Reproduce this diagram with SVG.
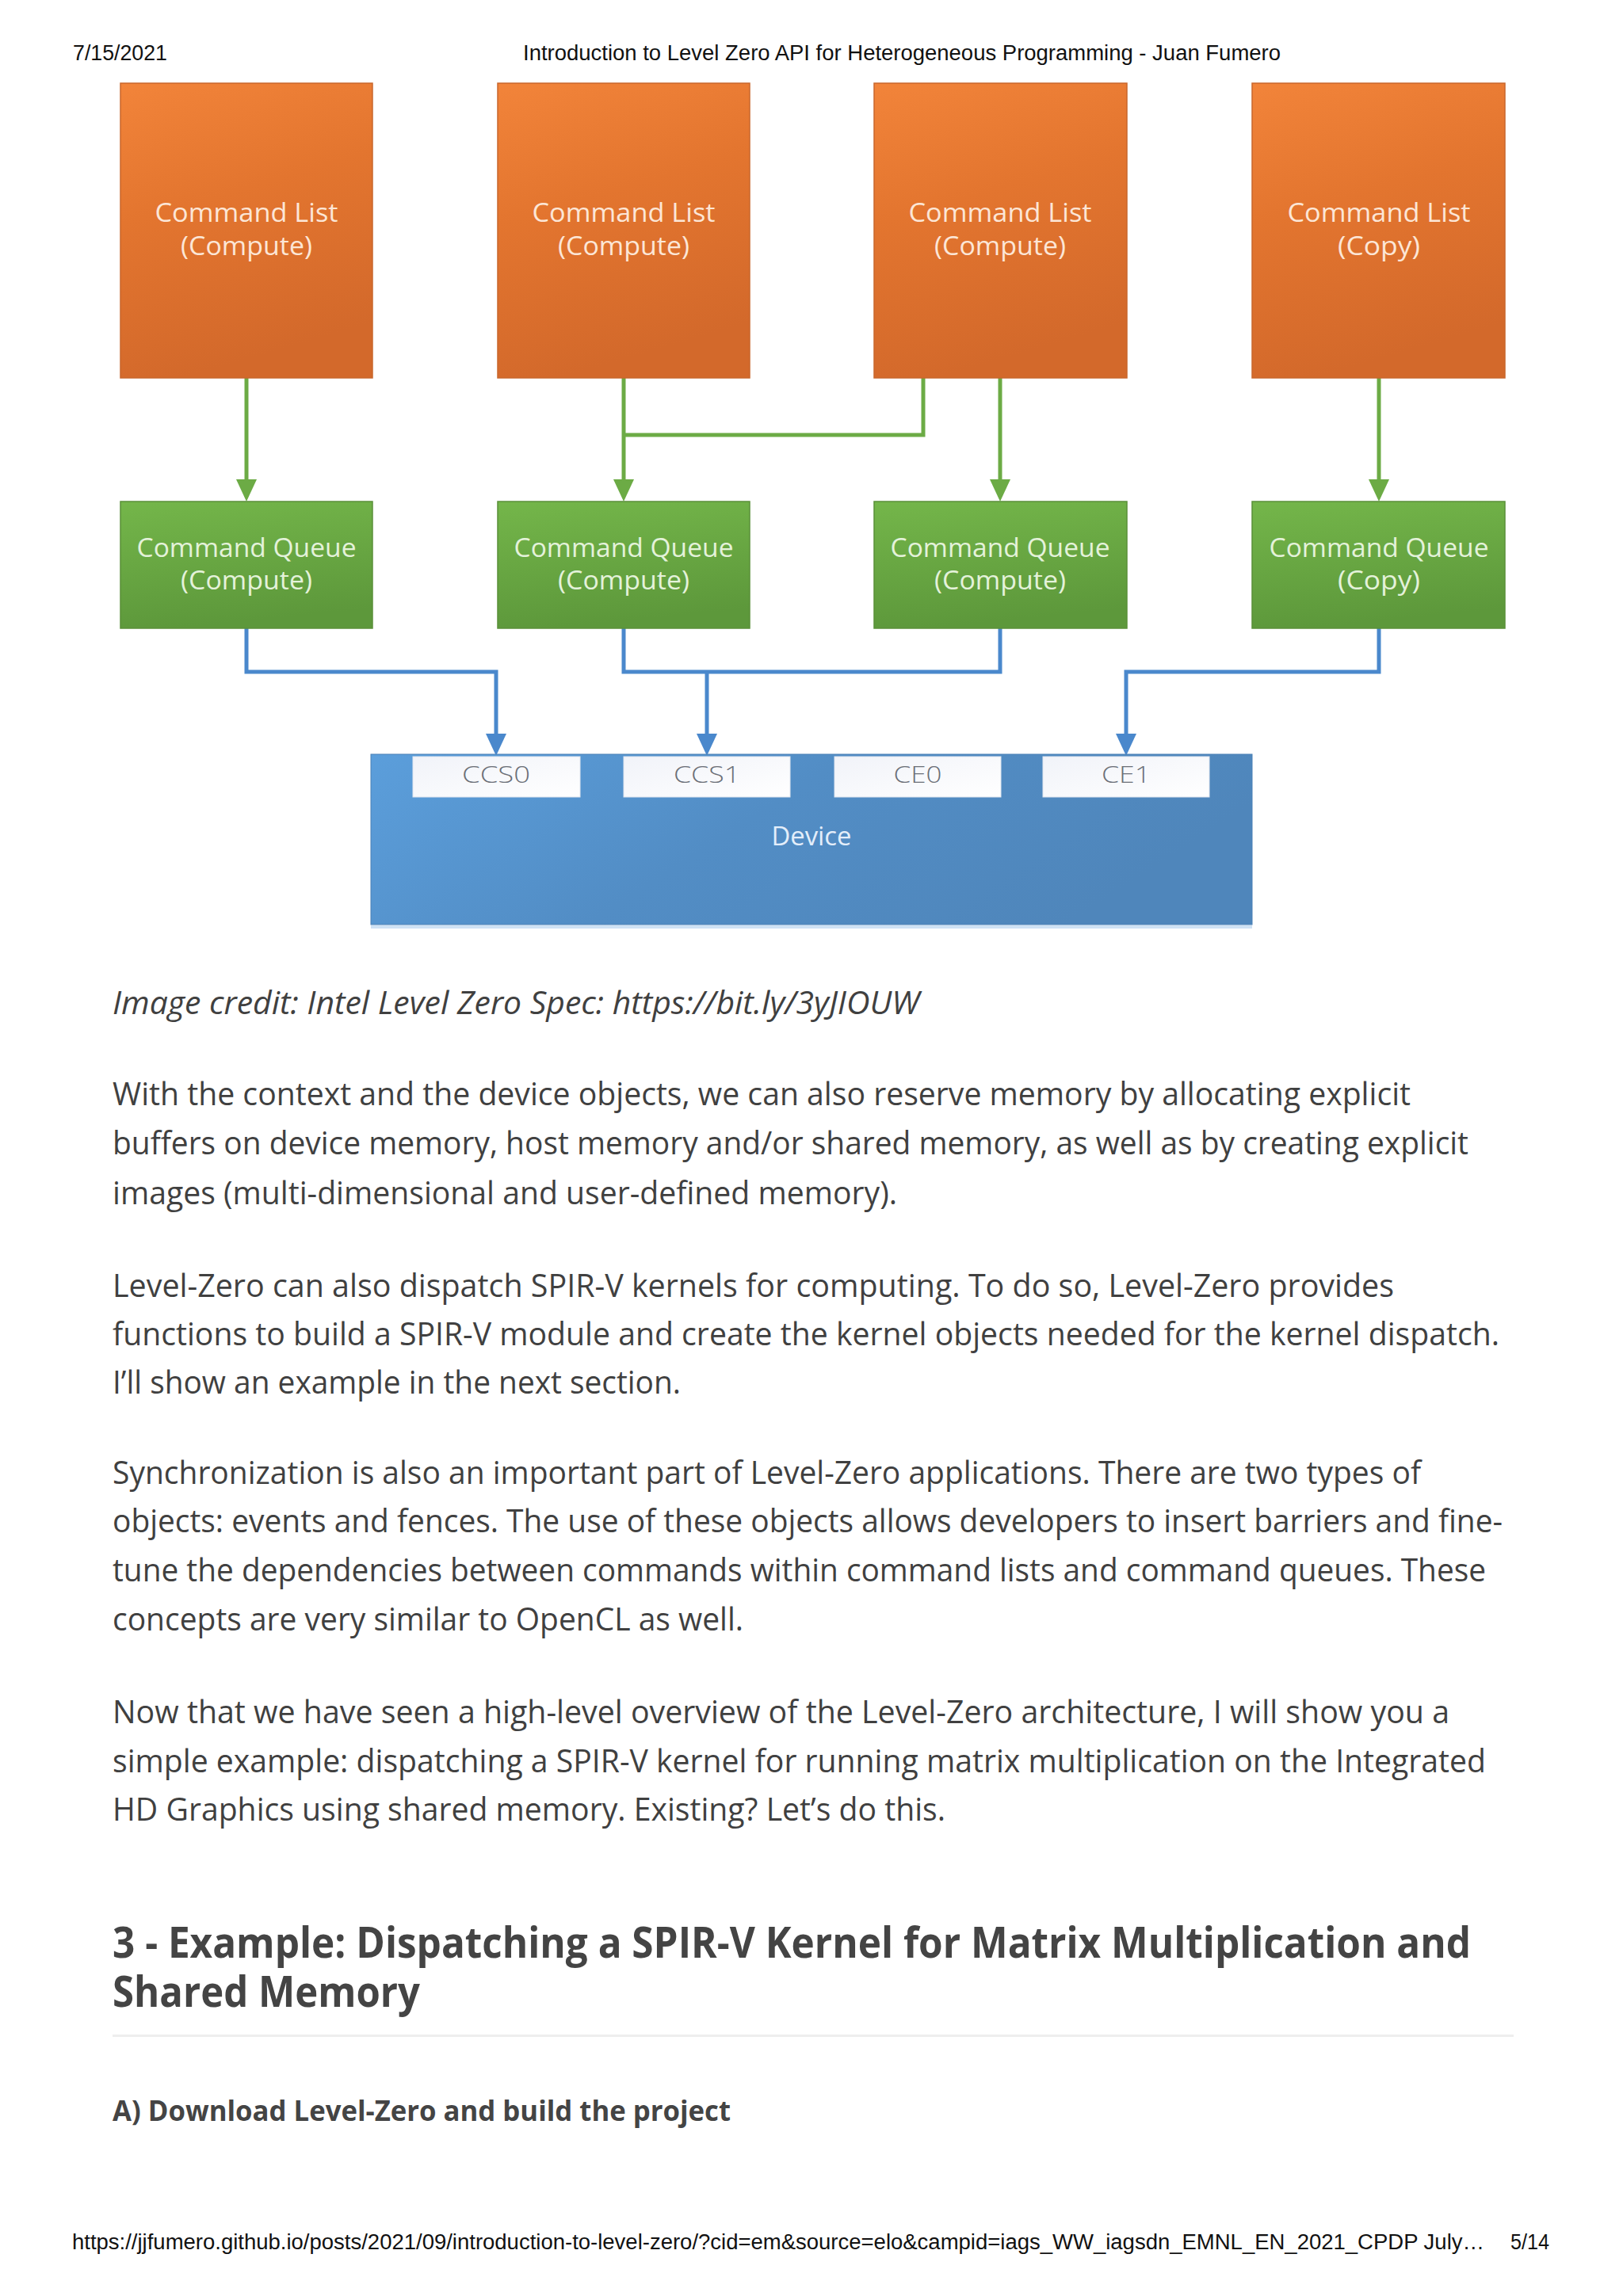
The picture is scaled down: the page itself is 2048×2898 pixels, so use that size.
<svg xmlns="http://www.w3.org/2000/svg" width="2048" height="2898" viewBox="0 0 2048 2898">
<defs>
<linearGradient id="gOrange" x1="0" y1="0" x2="0.25" y2="1">
<stop offset="0" stop-color="#f2843a"/>
<stop offset="0.45" stop-color="#e3752f"/>
<stop offset="1" stop-color="#d3692b"/>
</linearGradient>
<linearGradient id="gGreen" x1="0" y1="0" x2="0.2" y2="1">
<stop offset="0" stop-color="#74b64a"/>
<stop offset="1" stop-color="#5d983b"/>
</linearGradient>
<linearGradient id="gBlue" x1="0" y1="0" x2="1" y2="0.3">
<stop offset="0" stop-color="#5b9edb"/>
<stop offset="0.5" stop-color="#528dc5"/>
<stop offset="1" stop-color="#4f86bb"/>
</linearGradient>
<linearGradient id="gEngine" x1="0" y1="0" x2="1" y2="1">
<stop offset="0" stop-color="#f1f3f9"/>
<stop offset="1" stop-color="#ffffff"/>
</linearGradient>
<marker id="arrG" viewBox="0 0 28 26" markerWidth="28" markerHeight="26" refX="0" refY="13" orient="auto" markerUnits="userSpaceOnUse">
<path d="M0,0 L28,13 L0,26 z" fill="#6cab45"/>
</marker>
<marker id="arrB" viewBox="0 0 28 26" markerWidth="28" markerHeight="26" refX="0" refY="13" orient="auto" markerUnits="userSpaceOnUse">
<path d="M0,0 L28,13 L0,26 z" fill="#4a88cc"/>
</marker>
<style>
.hdr{font-family:"Liberation Sans",Arial,sans-serif;font-size:27px;fill:#111}
.cl{fill:url(#gOrange);stroke:#c9672d;stroke-width:1.5}
.cq{fill:url(#gGreen);stroke:#5a9038;stroke-width:1.5}
.lbl{font-family:"Open Sans","Noto Sans",sans-serif;font-size:32px;text-anchor:middle}
.lo{fill:#fce6d6}
.lg{fill:#e4f2da}
.eng{fill:url(#gEngine);stroke:#dfe5ef;stroke-width:1}
.le{font-family:"Open Sans","Noto Sans",sans-serif;font-size:30px;text-anchor:middle;fill:#6b6f77;font-weight:300}
.cg{fill:none;stroke:#6cab45;stroke-width:5}
.cb{fill:none;stroke:#4a88cc;stroke-width:5}
.body{font-family:"Open Sans","Noto Sans",sans-serif;font-size:40px;fill:#404040}
.it{font-style:italic}
.h2{font-family:"Open Sans","Noto Sans",sans-serif;font-size:54px;font-weight:700;fill:#444}
.h3{font-family:"Open Sans","Noto Sans",sans-serif;font-size:35px;font-weight:700;fill:#444}
</style>
</defs>
<rect width="2048" height="2898" fill="#ffffff"/>

<text class="hdr" x="92" y="76" textLength="119" lengthAdjust="spacingAndGlyphs">7/15/2021</text>
<text class="hdr" x="660" y="76" textLength="956" lengthAdjust="spacingAndGlyphs">Introduction to Level Zero API for Heterogeneous Programming - Juan Fumero</text>

<g id="connectors">
<path class="cg" d="M311,477 V605" marker-end="url(#arrG)"/>
<path class="cg" d="M787,477 V605" marker-end="url(#arrG)"/>
<path class="cg" d="M1165,477 V549 H787"/>
<path class="cg" d="M1262,477 V605" marker-end="url(#arrG)"/>
<path class="cg" d="M1740,477 V605" marker-end="url(#arrG)"/>
<path class="cb" d="M311,793 V848 H626 V926" marker-end="url(#arrB)"/>
<path class="cb" d="M787,793 V848 H1262 V793"/>
<path class="cb" d="M892,848 V926" marker-end="url(#arrB)"/>
<path class="cb" d="M1740,793 V848 H1421 V926" marker-end="url(#arrB)"/>
</g>

<g id="cl1"><rect class="cl" x="152" y="105" width="318" height="372"/>
<text class="lbl lo" x="311" y="280" textLength="231" lengthAdjust="spacingAndGlyphs">Command List</text>
<text class="lbl lo" x="311" y="322" textLength="166" lengthAdjust="spacingAndGlyphs">(Compute)</text></g>
<g id="cl2"><rect class="cl" x="628" y="105" width="318" height="372"/>
<text class="lbl lo" x="787" y="280" textLength="231" lengthAdjust="spacingAndGlyphs">Command List</text>
<text class="lbl lo" x="787" y="322" textLength="166" lengthAdjust="spacingAndGlyphs">(Compute)</text></g>
<g id="cl3"><rect class="cl" x="1103" y="105" width="319" height="372"/>
<text class="lbl lo" x="1262" y="280" textLength="231" lengthAdjust="spacingAndGlyphs">Command List</text>
<text class="lbl lo" x="1262" y="322" textLength="166" lengthAdjust="spacingAndGlyphs">(Compute)</text></g>
<g id="cl4"><rect class="cl" x="1580" y="105" width="319" height="372"/>
<text class="lbl lo" x="1740" y="280" textLength="231" lengthAdjust="spacingAndGlyphs">Command List</text>
<text class="lbl lo" x="1740" y="322" textLength="104" lengthAdjust="spacingAndGlyphs">(Copy)</text></g>

<g id="cq1"><rect class="cq" x="152" y="633" width="318" height="160"/>
<text class="lbl lg" x="311" y="703" textLength="277" lengthAdjust="spacingAndGlyphs">Command Queue</text>
<text class="lbl lg" x="311" y="744" textLength="166" lengthAdjust="spacingAndGlyphs">(Compute)</text></g>
<g id="cq2"><rect class="cq" x="628" y="633" width="318" height="160"/>
<text class="lbl lg" x="787" y="703" textLength="277" lengthAdjust="spacingAndGlyphs">Command Queue</text>
<text class="lbl lg" x="787" y="744" textLength="166" lengthAdjust="spacingAndGlyphs">(Compute)</text></g>
<g id="cq3"><rect class="cq" x="1103" y="633" width="319" height="160"/>
<text class="lbl lg" x="1262" y="703" textLength="277" lengthAdjust="spacingAndGlyphs">Command Queue</text>
<text class="lbl lg" x="1262" y="744" textLength="166" lengthAdjust="spacingAndGlyphs">(Compute)</text></g>
<g id="cq4"><rect class="cq" x="1580" y="633" width="319" height="160"/>
<text class="lbl lg" x="1740" y="703" textLength="277" lengthAdjust="spacingAndGlyphs">Command Queue</text>
<text class="lbl lg" x="1740" y="744" textLength="104" lengthAdjust="spacingAndGlyphs">(Copy)</text></g>

<g id="device">
<rect x="468" y="1168" width="1112" height="4" fill="#cfe2f5"/>
<rect x="468" y="952" width="1112" height="215" fill="url(#gBlue)" stroke="#4a80b6" stroke-width="1"/>
<text x="1024" y="1067" font-family="Open Sans, Noto Sans, sans-serif" font-size="33" text-anchor="middle" fill="#e3eefa" textLength="101" lengthAdjust="spacingAndGlyphs">Device</text>
</g>
<g id="ccs0"><rect class="eng" x="521" y="955" width="211" height="51"/><text class="le" x="626" y="988" textLength="86" lengthAdjust="spacingAndGlyphs">CCS0</text></g>
<g id="ccs1"><rect class="eng" x="787" y="955" width="210" height="51"/><text class="le" x="892" y="988" textLength="84" lengthAdjust="spacingAndGlyphs">CCS1</text></g>
<g id="ce0"><rect class="eng" x="1053" y="955" width="210" height="51"/><text class="le" x="1158" y="988" textLength="61" lengthAdjust="spacingAndGlyphs">CE0</text></g>
<g id="ce1"><rect class="eng" x="1316" y="955" width="210" height="51"/><text class="le" x="1421" y="988" textLength="62" lengthAdjust="spacingAndGlyphs">CE1</text></g>

<text class="body it" x="142" y="1280" textLength="1018" lengthAdjust="spacingAndGlyphs">Image credit: Intel Level Zero Spec: https://bit.ly/3yJIOUW</text>

<text class="body" x="142" y="1395" textLength="1638" lengthAdjust="spacingAndGlyphs">With the context and the device objects, we can also reserve memory by allocating explicit</text>
<text class="body" x="142" y="1457" textLength="1711" lengthAdjust="spacingAndGlyphs">buffers on device memory, host memory and/or shared memory, as well as by creating explicit</text>
<text class="body" x="142" y="1520" textLength="990" lengthAdjust="spacingAndGlyphs">images (multi-dimensional and user-defined memory).</text>

<text class="body" x="142" y="1637" textLength="1617" lengthAdjust="spacingAndGlyphs">Level-Zero can also dispatch SPIR-V kernels for computing. To do so, Level-Zero provides</text>
<text class="body" x="142" y="1698" textLength="1750" lengthAdjust="spacingAndGlyphs">functions to build a SPIR-V module and create the kernel objects needed for the kernel dispatch.</text>
<text class="body" x="142" y="1759" textLength="717" lengthAdjust="spacingAndGlyphs">I’ll show an example in the next section.</text>

<text class="body" x="142" y="1873" textLength="1651" lengthAdjust="spacingAndGlyphs">Synchronization is also an important part of Level-Zero applications. There are two types of</text>
<text class="body" x="142" y="1934" textLength="1754" lengthAdjust="spacingAndGlyphs">objects: events and fences. The use of these objects allows developers to insert barriers and fine-</text>
<text class="body" x="142" y="1996" textLength="1733" lengthAdjust="spacingAndGlyphs">tune the dependencies between commands within command lists and command queues. These</text>
<text class="body" x="142" y="2058" textLength="796" lengthAdjust="spacingAndGlyphs">concepts are very similar to OpenCL as well.</text>

<text class="body" x="142" y="2175" textLength="1687" lengthAdjust="spacingAndGlyphs">Now that we have seen a high-level overview of the Level-Zero architecture, I will show you a</text>
<text class="body" x="142" y="2237" textLength="1733" lengthAdjust="spacingAndGlyphs">simple example: dispatching a SPIR-V kernel for running matrix multiplication on the Integrated</text>
<text class="body" x="142" y="2298" textLength="1051" lengthAdjust="spacingAndGlyphs">HD Graphics using shared memory. Existing? Let’s do this.</text>

<text class="h2" x="142" y="2471" textLength="1714" lengthAdjust="spacingAndGlyphs">3 - Example: Dispatching a SPIR-V Kernel for Matrix Multiplication and</text>
<text class="h2" x="142" y="2533" textLength="388" lengthAdjust="spacingAndGlyphs">Shared Memory</text>
<rect x="142" y="2568" width="1768" height="3" fill="#eeeeee"/>
<text class="h3" x="142" y="2677" textLength="780" lengthAdjust="spacingAndGlyphs">A) Download Level-Zero and build the project</text>

<text class="hdr" x="91" y="2839" textLength="1782" lengthAdjust="spacingAndGlyphs">https://jjfumero.github.io/posts/2021/09/introduction-to-level-zero/?cid=em&amp;source=elo&amp;campid=iags_WW_iagsdn_EMNL_EN_2021_CPDP July…</text>
<text class="hdr" x="1906" y="2839" textLength="49" lengthAdjust="spacingAndGlyphs">5/14</text>
</svg>
